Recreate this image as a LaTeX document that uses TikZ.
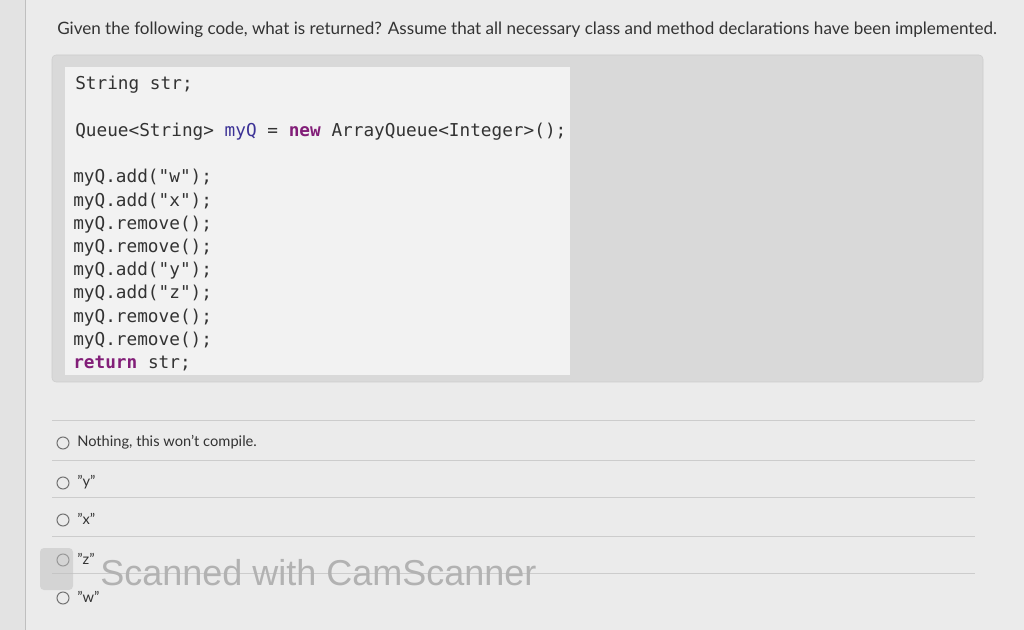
\documentclass[tikz,border=0pt]{standalone}
\usepackage{fontspec}
\setmainfont{Lato}
\setmonofont{DejaVu Sans Mono}
\newfontfamily\wmfont{Liberation Sans}
\begin{document}
\begin{tikzpicture}[x=0.75pt,y=-0.75pt,
  code/.style={anchor=base west,inner sep=0pt,font=\ttfamily\fontsize{13.3}{15}\selectfont,text=black!80},
  opt/.style={anchor=base west,inner sep=0pt,font=\fontsize{11}{13}\selectfont,text=black!80},
  radio/.style={draw=black!55,line width=0.8pt,circle,minimum size=9pt,inner sep=0pt},
  sep/.style={draw=black!20,line width=0.6pt}]
\definecolor{kw}{RGB}{130,30,120}
\definecolor{idf}{RGB}{60,50,150}
\useasboundingbox (0,0) rectangle (1024,630);
\fill[black!8] (0,0) rectangle (1024,630);
\fill[black!11] (0,0) rectangle (25,630);
\draw[black!25] (25,0) -- (25,630);
\node[anchor=base west,inner sep=0pt,font=\fontsize{12.8}{15}\selectfont,text=black!80] (q) at (57,35)
 {Given the following code, what is returned? Assume that all necessary class and method declarations have been implemented.};
\draw[black!20,fill=black!15,rounded corners=3pt] (52,55) rectangle (983,382);
\fill[black!5] (65,67) rectangle (570,375);
\node[code] (c1) at (75,90) {String str;};
\node[code] (c2) at (75,137) {Queue<String> \textcolor{idf}{myQ} = \textbf{\textcolor{kw}{new}} ArrayQueue<Integer>();};
\foreach \t [count=\i] in {myQ.add("w");,myQ.add("x");,myQ.remove();,myQ.remove();,myQ.add("y");,myQ.add("z");,myQ.remove();,myQ.remove();}
  \node[code] (l\i) at (73,{183+23.2*(\i-1)}) {\t};
\node[code] (ret) at (73,369) {\textbf{\textcolor{kw}{return}} str;};
\foreach \y in {420,460,497,536,573} \draw[sep] (52,\y) -- (975,\y);
\foreach \y/\t [count=\i] in {443/{Nothing, this won't compile.},483/"y",520/"x",560/"z",598/"w"}{
  \node[radio] (r\i) at (63,\y) {};
  \node[opt] (o\i) at (77,\y+4) {\t};}
\fill[black!25,opacity=0.5,rounded corners=3pt] (40,548) rectangle (73,590);
\node[anchor=base west,inner sep=0pt,font=\wmfont\fontsize{27}{30}\selectfont,text=black!30] (wm) at (100,585) {Scanned with CamScanner};
\end{tikzpicture}
\end{document}
